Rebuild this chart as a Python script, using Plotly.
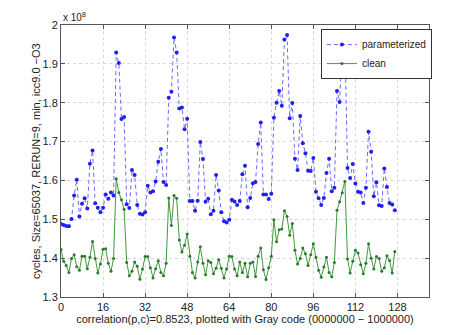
import plotly.graph_objects as go

x = list(range(128))
parameterized = [
    1.488, 1.485, 1.483, 1.482, 1.501, 1.561, 1.602, 1.507, 1.540, 1.554,
    1.528, 1.643, 1.677, 1.541, 1.530, 1.518, 1.530, 1.564, 1.553, 1.569,
    1.561, 1.929, 1.902, 1.758, 1.763, 1.539, 1.529, 1.627, 1.614, 1.537,
    1.514, 1.512, 1.518, 1.586, 1.569, 1.572, 1.597, 1.648, 1.681, 1.596,
    1.588, 1.813, 1.828, 1.968, 1.929, 1.785, 1.788, 1.732, 1.759, 1.547,
    1.547, 1.522, 1.548, 1.699, 1.655, 1.545, 1.553, 1.513, 1.522, 1.614,
    1.574, 1.518, 1.495, 1.492, 1.499, 1.550, 1.546, 1.537, 1.547, 1.616,
    1.638, 1.531, 1.555, 1.593, 1.596, 1.694, 1.749, 1.564, 1.564, 1.552,
    1.566, 1.761, 1.800, 1.830, 1.792, 1.963, 1.974, 1.760, 1.799, 1.656,
    1.627, 1.766, 1.696, 1.670, 1.625, 1.624, 1.658, 1.571, 1.554, 1.537,
    1.555, 1.619, 1.656, 1.572, 1.581, 1.830, 1.802, 1.957, 1.965, 1.632,
    1.606, 1.642, 1.592, 1.571, 1.569, 1.542, 1.581, 1.725, 1.674, 1.559,
    1.595, 1.536, 1.534, 1.631, 1.583, 1.542, 1.538, 1.523,
]
clean = [
    1.422, 1.392, 1.381, 1.363, 1.399, 1.409, 1.378, 1.369, 1.405, 1.405,
    1.373, 1.402, 1.443, 1.399, 1.362, 1.385, 1.423, 1.424, 1.387, 1.366,
    1.399, 1.604, 1.569, 1.550, 1.526, 1.389, 1.355, 1.366, 1.390, 1.379,
    1.346, 1.372, 1.404, 1.404, 1.375, 1.349, 1.373, 1.393, 1.363, 1.355,
    1.387, 1.555, 1.484, 1.561, 1.554, 1.447, 1.416, 1.433, 1.462, 1.405,
    1.363, 1.349, 1.390, 1.429, 1.387, 1.357, 1.393, 1.389, 1.360, 1.374,
    1.396, 1.374, 1.349, 1.372, 1.405, 1.404, 1.372, 1.355, 1.390, 1.363,
    1.387, 1.352, 1.387, 1.390, 1.353, 1.405, 1.426, 1.370, 1.345, 1.375,
    1.405, 1.499, 1.442, 1.473, 1.475, 1.522, 1.507, 1.459, 1.489, 1.420,
    1.385, 1.399, 1.426, 1.411, 1.381, 1.409, 1.437, 1.402, 1.369, 1.351,
    1.377, 1.402, 1.363, 1.352, 1.389, 1.523, 1.545, 1.568, 1.597, 1.398,
    1.362, 1.392, 1.420, 1.413, 1.383, 1.360, 1.387, 1.437, 1.400, 1.372,
    1.404, 1.399, 1.366, 1.375, 1.406, 1.394, 1.362, 1.417,
]
x_ticks = [0, 16, 32, 48, 64, 80, 96, 112, 128]
y_ticks = [1.3, 1.4, 1.5, 1.6, 1.7, 1.8, 1.9, 2.0]
y_tick_labels = ["1.3", "1.4", "1.5", "1.6", "1.7", "1.8", "1.9", "2"]

font = "Liberation Sans, Arial, sans-serif"

fig = go.Figure()
fig.add_trace(go.Scatter(
    x=x, y=parameterized, name="parameterized", mode="lines+markers",
    line=dict(color="#6a6aff", width=1, dash="4px,3px"),
    marker=dict(color="#2020f0", size=4, symbol="circle"),
))
fig.add_trace(go.Scatter(
    x=x, y=clean, name="clean", mode="lines+markers",
    line=dict(color="#3f9a3f", width=1),
    marker=dict(color="#2a7a2a", size=3, symbol="circle"),
))

axis_common = dict(
    showline=True, linecolor="#555", linewidth=1, mirror="ticks",
    ticks="inside", ticklen=4, tickcolor="#555",
    showgrid=True, gridcolor="#d8d8d8", griddash="dot", gridwidth=1,
    zeroline=False, tickfont=dict(family=font, size=11, color="#222"),
)
fig.update_xaxes(range=[0, 140], tickvals=x_ticks, **axis_common,
                 title=dict(text="correlation(p,c)=0.8523, plotted with Gray code (0000000 \u2212 1000000)",
                            font=dict(family=font, size=11, color="#222"), standoff=2))
fig.update_yaxes(range=[1.3, 2.0], tickvals=y_ticks, ticktext=y_tick_labels, **axis_common)

fig.add_annotation(text="cycles, Size=65037, RERUN=9, min, icc9.0 \u2212O3",
                   xref="paper", yref="paper", x=0.0, y=0.5, xshift=-25,
                   xanchor="center", yanchor="middle", textangle=-90, showarrow=False,
                   font=dict(family=font, size=11, color="#222"))

fig.add_annotation(text="x 10<sup>8</sup>", xref="paper", yref="paper", x=0.0, y=1.0,
                   xanchor="left", yanchor="bottom", showarrow=False,
                   font=dict(family=font, size=10, color="#222"))

fig.update_layout(
    width=474, height=335,
    margin=dict(l=61, r=45, t=25, b=38),
    paper_bgcolor="white", plot_bgcolor="white",
    showlegend=True,
    legend=dict(x=1.008, y=0.985, xanchor="right", yanchor="top",
                bgcolor="white", bordercolor="#333", borderwidth=1,
                font=dict(family=font, size=10, color="#222"),
                tracegroupgap=0, itemwidth=30),
)

fig.write_html("out.html")
